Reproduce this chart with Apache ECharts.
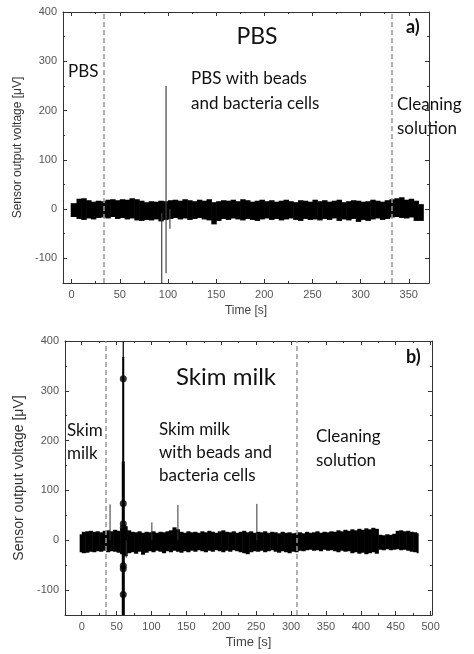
<!DOCTYPE html>
<html><head><meta charset="utf-8">
<script src="https://cdn.jsdelivr.net/npm/echarts@6/dist/echarts.min.js"></script>
<style>html,body{margin:0;padding:0;background:#fff}#c{width:474px;height:654px}</style>
</head><body><div id="c"></div><script>
// ---------- DATA ----------
const topXMajor = [0,50,100,150,200,250,300,350];
const topXMinor = [25,75,125,175,225,275,325];
const botXMajor = [0,50,100,150,200,250,300,350,400,450,500];
const botXMinor = [25,75,125,175,225,275,325,375,425,475];
const yMajor = [-100,0,100,200,300,400];
const yMinor = [-150,-50,50,150,250,350];

// (a) PBS: signal envelope blocks (start time of each block, last entry = end)
const topTime = [-1,5,10,15,20,25,30,35,40,45,50,55,60,65,70,75,80,85,90,95,100,105,110,115,120,125,130,135,140,145,150,155,160,165,170,175,180,185,190,195,200,205,210,215,220,225,230,235,240,245,250,255,260,265,270,275,280,285,290,295,300,305,310,315,320,325,330,335,340,345,350,355,360,365];
const topHi = [12,21,22,18,15,17,16,19,20,18,20,19,22,20,17,14,16,15,17,16,18,19,17,20,18,16,19,17,20,14,16,18,17,19,16,20,18,15,17,19,16,18,15,17,19,16,14,18,17,15,19,16,18,15,17,19,14,16,18,17,15,16,19,17,15,18,20,22,24,19,21,17,10];
const topLo = [-16,-20,-22,-19,-21,-18,-17,-19,-16,-20,-18,-21,-19,-23,-24,-22,-23,-21,-25,-22,-20,-18,-21,-19,-22,-20,-18,-21,-23,-31,-24,-20,-22,-19,-21,-23,-20,-22,-24,-21,-19,-22,-20,-23,-21,-19,-22,-24,-20,-22,-21,-23,-20,-22,-19,-24,-21,-23,-20,-26,-22,-24,-21,-19,-22,-20,-17,-16,-18,-19,-17,-24,-24];
// spikes: [time, from, to]
const topSpikes = [[93.5,-8,-150],[98,250,-130],[102,0,-40]];
const topPhases = [33, 332];

// (b) Skim milk
const botTime = [-3,0,5,10,15,20,25,30,35,40,45,50,55,60,65,70,75,80,85,90,95,100,105,110,115,120,125,130,135,140,145,150,155,160,165,170,175,180,185,190,195,200,205,210,215,220,225,230,235,240,245,250,255,260,265,270,275,280,285,290,295,300,305,310,315,320,325,330,335,340,345,350,355,360,365,370,375,380,385,390,395,400,405,410,415,420,425,430,435,440,445,450,455,460,465,470,475,480,482];
const botHi = [12,17,18,19,17,18,16,19,20,18,21,19,24,28,20,17,16,18,15,17,16,18,15,17,16,18,20,26,22,17,15,18,16,17,15,18,16,19,17,15,18,20,17,16,18,15,17,19,16,18,15,17,16,18,15,17,16,14,17,15,16,14,15,16,14,17,15,16,18,15,17,16,18,17,20,18,21,19,22,20,23,21,24,22,25,23,11,10,12,11,13,19,20,18,19,17,16,14];
const botLo = [-24,-26,-25,-23,-24,-22,-23,-21,-24,-22,-23,-25,-28,-32,-26,-24,-27,-23,-29,-25,-22,-24,-21,-23,-26,-22,-24,-21,-23,-25,-22,-24,-21,-23,-20,-22,-24,-21,-23,-20,-22,-24,-21,-23,-20,-22,-24,-26,-28,-24,-22,-23,-21,-24,-22,-20,-23,-25,-22,-24,-26,-23,-24,-21,-22,-20,-19,-21,-20,-22,-19,-21,-20,-22,-24,-21,-23,-22,-26,-24,-27,-25,-28,-26,-24,-27,-19,-20,-18,-20,-19,-18,-20,-19,-21,-23,-24,-26];
const botSpikesThin = [[40.6,0,72],[63.7,0,-35],[100.5,0,36],[137.8,0,71],[251,0,73]];
const botSpikeMain = [[59.5,400,-150]];
const botSpikeMid = [[59.5,368,-150]];
const botSpikeThick = [[59.5,158,-150]];
const botMarkers = [[59.5,324],[59.5,74],[59.5,33],[59.5,25],[59.5,-51],[59.5,-57],[59.5,-109]];
const botPhases = [35, 308];

// ---------- BUILD ----------
const FONT = "'Liberation Sans', Arial, sans-serif";
const ANN = "Lato, 'Open Sans', sans-serif";

function blocks(t, hi, lo) {
  const out = [];
  for (let i = 0; i < hi.length; i++) out.push([t[i], t[i+1], lo[i], hi[i]]);
  return out;
}
function bandRender(params, api) {
  const p1 = api.coord([api.value(0), api.value(3)]);
  const p2 = api.coord([api.value(1), api.value(2)]);
  return {type:'rect', shape:{x:p1[0], y:p1[1], width:p2[0]-p1[0]+0.6, height:p2[1]-p1[1]}, style:{fill:'#000'}};
}
function spikeRender(color, width) {
  return function(params, api) {
    const a = api.coord([api.value(0), api.value(1)]);
    const b = api.coord([api.value(0), api.value(2)]);
    return {type:'line', shape:{x1:a[0], y1:a[1], x2:b[0], y2:b[1]}, style:{stroke:color, lineWidth:width}};
  };
}

const axisColor = '#333';
function xAxes(grid, min, max, major, minor, nameSize, nameGap) {
  const base = {gridIndex:grid, type:'value', min:min, max:max, splitLine:{show:false}};
  return [
    Object.assign({}, base, {position:'bottom',
      axisLine:{show:true, onZero:false, lineStyle:{color:axisColor, width:1}},
      axisTick:{show:true, inside:true, length:4, customValues:major, lineStyle:{color:axisColor}},
      axisLabel:{show:true, customValues:major, fontSize:11, color:'#555', margin:6, fontFamily:FONT},
      name:'Time [s]', nameLocation:'middle', nameGap:nameGap,
      nameTextStyle:{fontSize:nameSize, color:'#444', fontFamily:FONT}}),
    Object.assign({}, base, {position:'bottom',
      axisLine:{show:false, onZero:false}, axisLabel:{show:false},
      axisTick:{show:true, inside:true, length:2, customValues:minor, lineStyle:{color:axisColor}}}),
    Object.assign({}, base, {position:'top',
      axisLine:{show:true, onZero:false, lineStyle:{color:axisColor, width:1}}, axisLabel:{show:false},
      axisTick:{show:true, inside:true, length:4, customValues:major, lineStyle:{color:axisColor}}}),
    Object.assign({}, base, {position:'top',
      axisLine:{show:false, onZero:false}, axisLabel:{show:false},
      axisTick:{show:true, inside:true, length:2, customValues:minor, lineStyle:{color:axisColor}}})
  ];
}
function yAxes(grid, nameSize, nameGap) {
  const base = {gridIndex:grid, type:'value', min:-150, max:400, splitLine:{show:false}};
  return [
    Object.assign({}, base, {position:'left',
      axisLine:{show:true, onZero:false, lineStyle:{color:axisColor, width:1}},
      axisTick:{show:true, inside:true, length:4, customValues:yMajor, lineStyle:{color:axisColor}},
      axisLabel:{show:true, customValues:yMajor, fontSize:11, color:'#555', margin:6, fontFamily:FONT},
      name:'Sensor output voltage [\u03bcV]', nameLocation:'middle', nameGap:nameGap, nameRotate:90,
      nameTextStyle:{fontSize:nameSize, color:'#333', fontFamily:FONT}}),
    Object.assign({}, base, {position:'left',
      axisLine:{show:false, onZero:false}, axisLabel:{show:false},
      axisTick:{show:true, inside:true, length:2, customValues:yMinor, lineStyle:{color:axisColor}}}),
    Object.assign({}, base, {position:'right',
      axisLine:{show:true, onZero:false, lineStyle:{color:axisColor, width:1}}, axisLabel:{show:false},
      axisTick:{show:true, inside:true, length:4, customValues:yMajor, lineStyle:{color:axisColor}}}),
    Object.assign({}, base, {position:'right',
      axisLine:{show:false, onZero:false}, axisLabel:{show:false},
      axisTick:{show:true, inside:true, length:2, customValues:yMinor, lineStyle:{color:axisColor}}})
  ];
}
function phaseLines(vals) {
  return {silent:true, symbol:['none','none'], label:{show:false},
    lineStyle:{color:'#999', type:[5,3], width:1.5},
    data: vals.map(v => ({xAxis:v}))};
}
function txt(x, y, text, size, opts) {
  return Object.assign({type:'text', x:x, y:y, silent:true,
    style:Object.assign({text:text, fontSize:size, fontFamily:ANN, fill:'#111',
      align:'left', textAlign:'left', verticalAlign:'middle', textVerticalAlign:'middle'}, opts || {})});
}

const chart = echarts.init(document.getElementById('c'), null, {renderer:'canvas'});
chart.setOption({
  animation:false,
  backgroundColor:'#fff',
  grid:[
    {left:63, top:12, width:366, height:271},
    {left:65, top:341, width:367, height:274}
  ],
  xAxis: xAxes(0, -9, 371, topXMajor, topXMinor, 12, 22).concat(xAxes(1, -24, 502, botXMajor, botXMinor, 13, 21)),
  yAxis: yAxes(0, 12, 33).concat(yAxes(1, 14, 30)),
  series:[
    {type:'custom', xAxisIndex:0, yAxisIndex:0, clip:true, renderItem:bandRender,
      encode:{x:[0,1], y:[2,3]}, data:blocks(topTime, topHi, topLo), markLine:phaseLines(topPhases), z:2},
    {type:'custom', xAxisIndex:0, yAxisIndex:0, clip:true, renderItem:spikeRender('#444',1.2),
      encode:{x:0, y:[1,2]}, data:topSpikes, z:3},
    {type:'custom', xAxisIndex:4, yAxisIndex:4, clip:true, renderItem:bandRender,
      encode:{x:[0,1], y:[2,3]}, data:blocks(botTime, botHi, botLo), markLine:phaseLines(botPhases), z:2},
    {type:'custom', xAxisIndex:4, yAxisIndex:4, clip:true, renderItem:spikeRender('#333',1),
      encode:{x:0, y:[1,2]}, data:botSpikesThin, z:3},
    {type:'custom', xAxisIndex:4, yAxisIndex:4, clip:true, renderItem:spikeRender('#111',1.3),
      encode:{x:0, y:[1,2]}, data:botSpikeMain, z:3},
    {type:'custom', xAxisIndex:4, yAxisIndex:4, clip:true, renderItem:spikeRender('#000',2),
      encode:{x:0, y:[1,2]}, data:botSpikeMid, z:3},
    {type:'custom', xAxisIndex:4, yAxisIndex:4, clip:true, renderItem:spikeRender('#000',3),
      encode:{x:0, y:[1,2]}, data:botSpikeThick, z:3},
    {type:'scatter', xAxisIndex:4, yAxisIndex:4, symbol:'circle', symbolSize:7,
      itemStyle:{color:'#000'}, data:botMarkers, z:4, silent:true}
  ],
  graphic:[
    txt(257, 37, 'PBS', 23, {align:'center', textAlign:'center'}),
    txt(406, 27, 'a)', 18, {fontWeight:'bold'}),
    txt(68, 72, 'PBS', 17),
    txt(191, 66.5, 'PBS with beads\nand bacteria cells', 17, {verticalAlign:'top', textVerticalAlign:'top', lineHeight:25}),
    txt(397, 93, 'Cleaning\nsolution', 17, {verticalAlign:'top', textVerticalAlign:'top', lineHeight:24}),
    txt(406, 357, 'b)', 18, {fontWeight:'bold'}),
    txt(226, 377, 'Skim milk', 24, {align:'center', textAlign:'center'}),
    txt(67, 419.5, 'Skim\nmilk', 17, {verticalAlign:'top', textVerticalAlign:'top', lineHeight:23}),
    txt(159, 418.5, 'Skim milk\nwith beads and\nbacteria cells', 17, {verticalAlign:'top', textVerticalAlign:'top', lineHeight:23}),
    txt(316, 425, 'Cleaning\nsolution', 17, {verticalAlign:'top', textVerticalAlign:'top', lineHeight:24})
  ]
});
</script></body></html>
